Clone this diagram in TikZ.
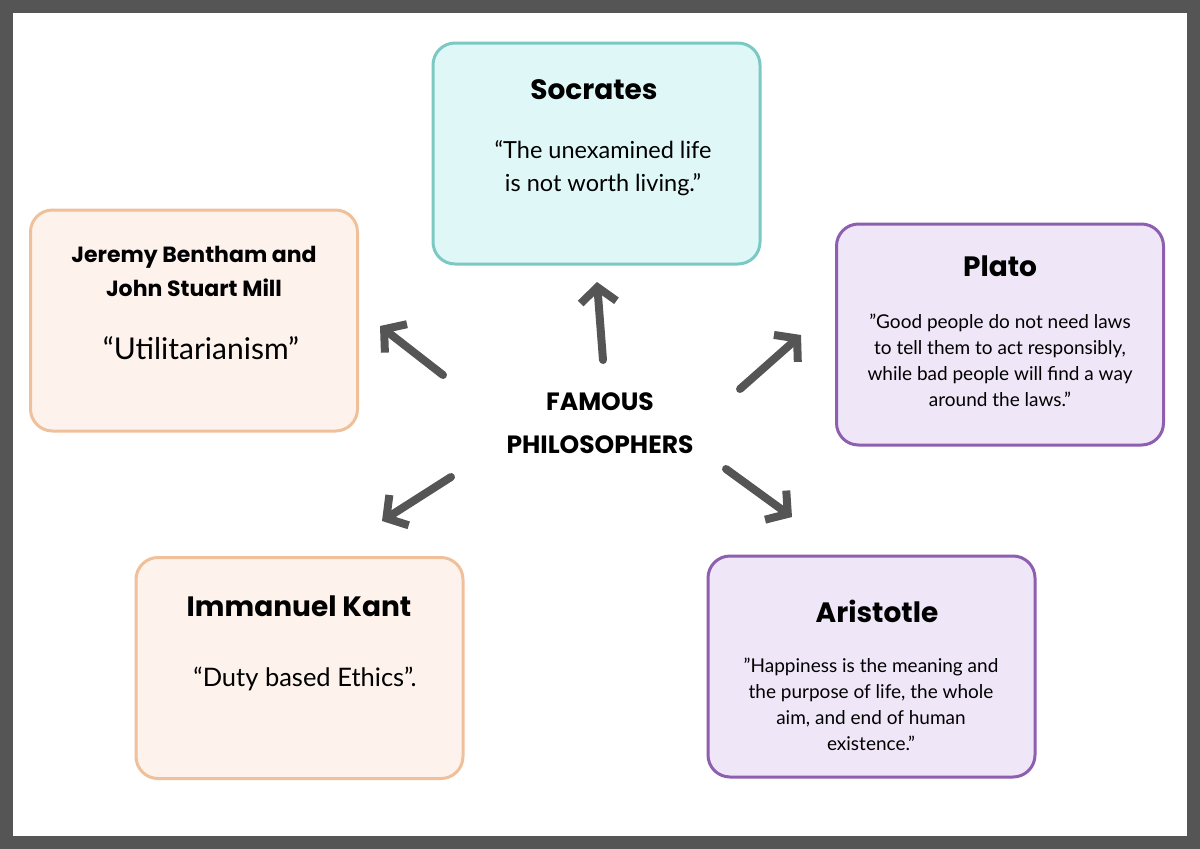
\documentclass[tikz,border=0pt]{standalone}
\usepackage{fontspec}
\setmainfont{Lato}
\newfontfamily\tfont{Poppins}
\usetikzlibrary{arrows.meta}
\definecolor{frame}{HTML}{555555}
\definecolor{cyfill}{HTML}{E0F7F7}\definecolor{cyline}{HTML}{7CC9C4}
\definecolor{orfill}{HTML}{FEF3EC}\definecolor{orline}{HTML}{F0C09A}
\definecolor{pufill}{HTML}{EFE6F7}\definecolor{puline}{HTML}{8E5FB0}
\newcommand{\dq}{{\char34}}
\tikzset{
 box/.style={draw,line width=3pt,rounded corners=22pt,minimum width=327pt,minimum height=221pt},
 cybox/.style={box,fill=cyfill,draw=cyline},
 orbox/.style={box,fill=orfill,draw=orline},
 pubox/.style={box,fill=pufill,draw=puline},
 ttl/.style={font=\tfont\bfseries\fontsize{28}{32}\selectfont,align=center},
 txt/.style={font=\fontsize{19}{26}\selectfont,align=center},
 arr/.style={draw=frame,line width=8pt,line cap=round,-{Straight Barb[length=15pt,width=36pt,line width=8pt]}}
}
\begin{document}
\begin{tikzpicture}[x=1pt,y=-1pt]
\fill[frame] (0,0) rectangle (1200,849);
\fill[white] (13,13) rectangle (1187,836);
\node[cybox] (soc) at (596.5,153.5) {};
\node[orbox] (ben) at (194,320.5) {};
\node[pubox] (pla) at (1000,334.5) {};
\node[orbox] (kan) at (299.5,668) {};
\node[pubox] (ari) at (871.5,666.5) {};
\node[ttl] (socT) at (594,90) {Socrates};
\node[txt,font=\fontsize{23.5}{33}\selectfont] (socB) at (603,168) {“The unexamined life\\is not worth living.”};
\node[ttl,font=\tfont\bfseries\fontsize{22}{34}\selectfont] (benT) at (194,271) {Jeremy Bentham and\\John Stuart Mill};
\node[txt,font=\fontsize{30}{34}\selectfont] (benB) at (201,348) {“Utilitarianism”};
\node[ttl] (plaT) at (1000,266) {Plato};
\node[txt] (plaB) at (1000,360) {\dq Good people do not need laws\\to tell them to act responsibly,\\while bad people will find a way\\around the laws.\dq};
\node[ttl] (kanT) at (299,606) {Immanuel Kant};
\node[txt,font=\fontsize{25.5}{30}\selectfont] (kanB) at (305,679) {“Duty based Ethics”.};
\node[ttl] (ariT) at (877,611) {Aristotle};
\node[txt] (ariB) at (871,704) {\dq Happiness is the meaning and\\the purpose of life, the whole\\aim, and end of human\\existence.\dq};
\node[font=\tfont\bfseries\fontsize{25}{43}\selectfont,align=center] (c) at (600,423) {FAMOUS\\PHILOSOPHERS};
\coordinate (a1s) at (603,360); \coordinate (a1e) at (597,282);
\coordinate (a2s) at (443,375); \coordinate (a2e) at (380,326);
\coordinate (a3s) at (740,389); \coordinate (a3e) at (801,335);
\coordinate (a4s) at (451,477); \coordinate (a4e) at (382,521);
\coordinate (a5s) at (726,469); \coordinate (a5e) at (792,517);
\draw[arr] (a1s) -- (a1e);
\draw[arr] (a2s) -- (a2e);
\draw[arr] (a3s) -- (a3e);
\draw[arr] (a4s) -- (a4e);
\draw[arr] (a5s) -- (a5e);
\end{tikzpicture}
\end{document}
